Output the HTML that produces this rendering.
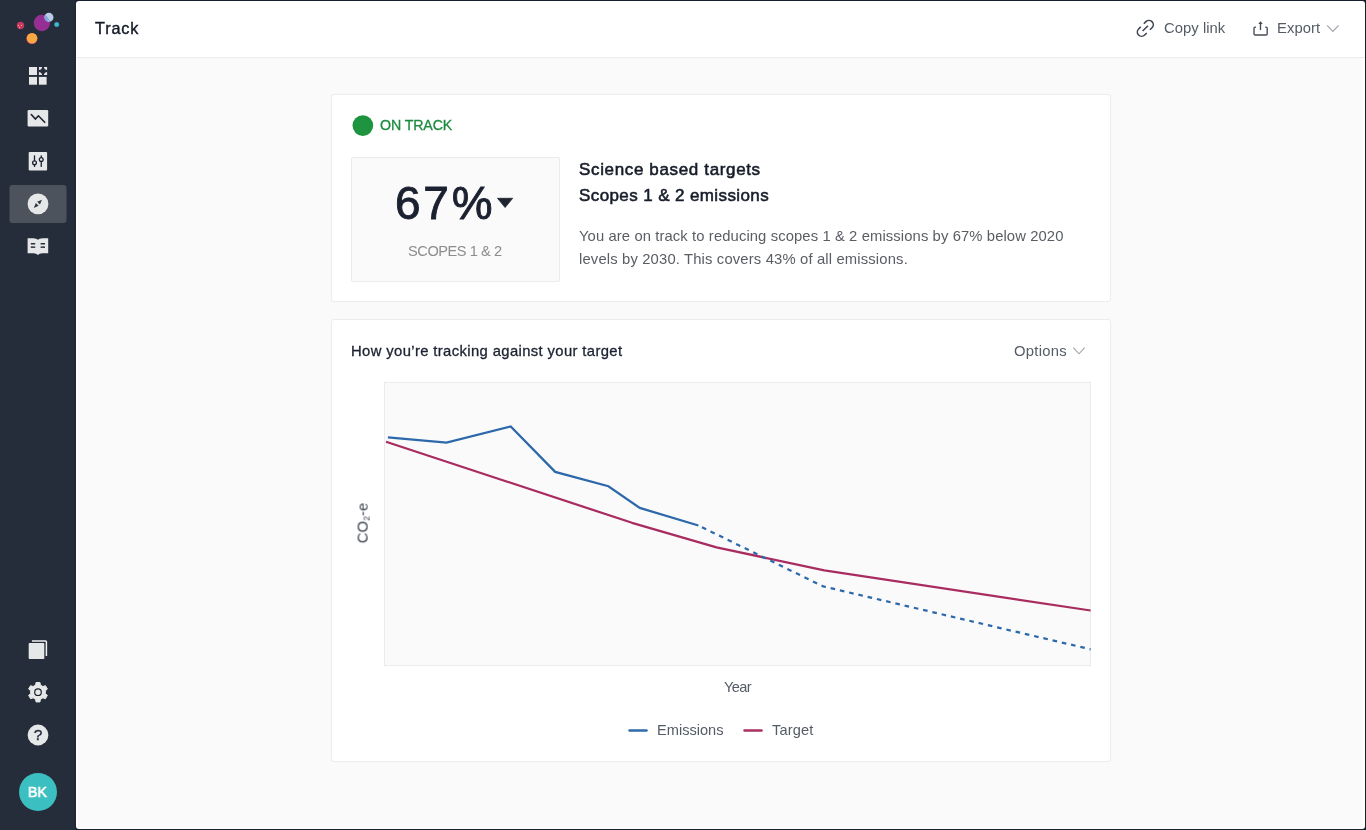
<!DOCTYPE html>
<html><head><meta charset="utf-8"><title>Track</title>
<style>
html,body{margin:0;padding:0;}
body{width:1366px;height:830px;overflow:hidden;background:#262d3a;font-family:"Liberation Sans",sans-serif;position:relative;}
.abs{position:absolute;}
.t{position:absolute;line-height:1;white-space:nowrap;will-change:transform;}
#edge-t{left:76px;top:0;width:1290px;height:1px;background:#161d2c;}
#edge-r{left:1365px;top:0;width:1px;height:830px;background:#161d2c;}
#edge-b{left:76px;top:828.5px;width:1290px;height:1.5px;background:#161d2c;}
#shadow-l{left:73.5px;top:0;width:2.5px;height:830px;background:linear-gradient(to right,rgba(20,26,40,0),rgba(20,26,40,0.4));}
#panel{left:76px;top:1px;width:1289px;height:827.5px;background:#fff;border-radius:3px;}
#hdrline{left:76px;top:57px;width:1289px;height:1px;background:#ececec;}
#bodybg{left:77.5px;top:58px;width:1285.5px;height:769px;background:#fafafa;}
.card{position:absolute;background:#fff;border:1px solid #ececec;border-radius:3px;box-sizing:border-box;}
#card1{left:331px;top:94px;width:780px;height:208px;}
#card2{left:331px;top:319px;width:780px;height:443px;}
#kpi{left:351px;top:157px;width:209px;height:125px;background:#fafafa;border:1px solid #ebebeb;border-radius:2px;box-sizing:border-box;}
#plot{left:384px;top:382px;width:707px;height:284px;background:#fafafa;border:1px solid #ebebeb;box-sizing:border-box;}
#ylab{left:362.9px;top:523.3px;width:0;height:0;will-change:transform;}
#ylab span{position:absolute;white-space:nowrap;font-size:14.8px;line-height:1;color:#3d4350;transform:translate(-50%,-50%) rotate(-90deg);display:block;letter-spacing:0.1px;}
#ylab sub{font-size:8.5px;vertical-align:-1.5px;line-height:0;}
#bk{left:19px;top:773px;width:38px;height:38px;border-radius:50%;background:#3bbfc0;color:#fff;font-size:14.3px;line-height:38px;text-align:center;letter-spacing:0px;text-indent:-1.6px;-webkit-text-stroke:0.5px #fff;}
#q{left:28px;top:724.5px;width:20px;height:20px;color:#252b3a;font-size:15.5px;line-height:20px;text-align:center;-webkit-text-stroke:0.35px #252b3a;}
</style></head><body>
<div class="abs" id="shadow-l"></div>
<div class="abs" id="edge-t"></div><div class="abs" id="edge-r"></div><div class="abs" id="edge-b"></div>
<div class="abs" id="panel"></div>
<div class="abs" id="hdrline"></div>
<div class="abs" id="bodybg"></div>
<div class="card" id="card1"></div>
<div class="card" id="card2"></div>
<div class="abs" id="kpi"></div>
<div class="abs" id="plot"></div>
<div class="t" style="left:95.34px;top:20.49px;font-size:16.20px;color:#141a26;letter-spacing:0.885px;-webkit-text-stroke:0.4px #141a26;">Track</div>
<div class="t" style="left:1164.35px;top:20.67px;font-size:14.80px;color:#555b65;letter-spacing:0.045px;">Copy link</div>
<div class="t" style="left:1276.69px;top:20.67px;font-size:14.80px;color:#555b65;letter-spacing:0.090px;">Export</div>
<div class="t" style="left:379.73px;top:118.38px;font-size:14.20px;color:#1c8c3f;letter-spacing:-0.106px;-webkit-text-stroke:0.3px #1c8c3f;">ON TRACK</div>
<div class="t" style="left:394.57px;top:181.15px;font-size:45.90px;color:#1b2130;letter-spacing:2.800px;-webkit-text-stroke:0.9px #1b2130;">67%</div>
<div class="t" style="left:408.14px;top:243.94px;font-size:14.60px;color:#8c8c8c;letter-spacing:-0.446px;">SCOPES 1 &amp; 2</div>
<div class="t" style="left:578.93px;top:161.11px;font-size:17.00px;color:#161c28;letter-spacing:0.644px;-webkit-text-stroke:0.55px #161c28;">Science based targets</div>
<div class="t" style="left:578.93px;top:187.11px;font-size:17.00px;color:#161c28;letter-spacing:0.394px;-webkit-text-stroke:0.55px #161c28;">Scopes 1 &amp; 2 emissions</div>
<div class="t" style="left:579.27px;top:228.77px;font-size:14.80px;color:#5a5d63;letter-spacing:0.104px;">You are on track to reducing scopes 1 &amp; 2 emissions by 67% below 2020</div>
<div class="t" style="left:578.60px;top:251.87px;font-size:14.80px;color:#5a5d63;letter-spacing:0.155px;">levels by 2030. This covers 43% of all emissions.</div>
<div class="t" style="left:350.99px;top:343.87px;font-size:14.80px;color:#1b2130;letter-spacing:0.381px;-webkit-text-stroke:0.3px #1b2130;">How you’re tracking against your target</div>
<div class="t" style="left:1013.70px;top:343.87px;font-size:14.80px;color:#555b65;letter-spacing:0.272px;">Options</div>
<div class="t" style="left:724.28px;top:680.04px;font-size:14.60px;color:#555b65;letter-spacing:-0.625px;">Year</div>
<div class="t" style="left:657.00px;top:722.84px;font-size:14.60px;color:#555b65;letter-spacing:-0.000px;">Emissions</div>
<div class="t" style="left:772.47px;top:722.84px;font-size:14.60px;color:#555b65;letter-spacing:0.128px;">Target</div>
<div class="abs" id="ylab"><span>CO<sub>2</sub>-e</span></div>
<svg class="abs" style="left:0;top:0" width="1366" height="830" viewBox="0 0 1366 830">
<!-- logo -->
<circle cx="41.9" cy="23.0" r="8.15" fill="#952f93"/>
<circle cx="48.9" cy="17.4" r="4.55" fill="#b9cde6"/>
<path d="M45.2,16.6 L48.6,21.6 Q46.6,21.6 45.4,20 Q44.2,18.4 45.2,16.6Z" fill="#6f9fd4"/>
<line x1="45.6" y1="15.6" x2="49.8" y2="21.6" stroke="#5a8fcf" stroke-width="0.9"/>
<circle cx="56.7" cy="24.5" r="2.5" fill="#3d8bd8"/><circle cx="56.7" cy="24.5" r="2.0" fill="#35c0bf"/>
<circle cx="20.5" cy="25.5" r="3.7" fill="#c4356a"/><circle cx="18.5" cy="25.4" r="0.65" fill="#f8b43a"/><circle cx="21.45" cy="25.4" r="0.65" fill="#f8b43a"/><circle cx="19.5" cy="27.5" r="0.65" fill="#f8b43a"/>
<circle cx="31.85" cy="38.5" r="5.5" fill="#d63a6a"/><circle cx="32.05" cy="38.3" r="5.3" fill="#f8a842"/>
<!-- active bg -->
<rect x="9.5" y="185" width="57" height="38" rx="3" fill="#4d535d"/>
<!-- dashboard -->
<g fill="#e6e7e9">
<rect x="29" y="67" width="8" height="8"/><rect x="29" y="76.9" width="8" height="7.8"/><rect x="38.9" y="76.9" width="7.7" height="7.8"/>
<rect x="38.9" y="67" width="8.2" height="8"/>
</g>
<path d="M42.1,66.8 L43.9,66.8 Q44.1,69.9 47.3,70.1 L47.3,71.9 Q44.1,72.1 43.9,75.2 L42.1,75.2 Q41.9,72.1 38.7,71.9 L38.7,70.1 Q41.9,69.9 42.1,66.8Z" fill="#262d3a"/>
<!-- trend -->
<rect x="27.6" y="110" width="20.6" height="16.5" rx="1.2" fill="#e6e7e9"/>
<polyline points="31.3,114.5 35.4,119.1 38.4,115.8 44.7,122.3" fill="none" stroke="#1c2230" stroke-width="1.6" stroke-linecap="round" stroke-linejoin="miter"/>
<!-- sliders -->
<rect x="28.7" y="152" width="18.4" height="18.5" rx="1" fill="#e6e7e9"/>
<g stroke="#1c2230" stroke-width="1.3" fill="#e6e7e9" stroke-linecap="round">
<line x1="34.5" y1="155.8" x2="34.5" y2="166.4"/><line x1="41.25" y1="155.8" x2="41.25" y2="166.4"/>
<circle cx="34.5" cy="162.7" r="1.9"/><circle cx="41.25" cy="159.5" r="1.9"/>
</g>
<!-- compass -->
<circle cx="38" cy="203.9" r="10.4" fill="#e6e7e9"/>
<path d="M42.0,199.75 L39.95,204.57 L37.13,201.75Z M33.8,207.9 L38.67,205.85 L35.85,203.03Z" fill="#2f3541"/>
<!-- book -->
<path d="M27.6,238.3 H33.5 Q36.5,238.3 37.9,239.8 Q39.3,238.3 42.3,238.3 H48.2 V253.2 H42.3 Q39.3,253.2 37.9,254.9 Q36.5,253.2 33.5,253.2 H27.6Z" fill="#e6e7e9"/>
<g fill="#2a303d"><rect x="30.8" y="243" width="4.4" height="1.5"/><rect x="30.8" y="246.4" width="4.4" height="1.5"/><rect x="40.6" y="243" width="4.4" height="1.5"/><rect x="40.6" y="246.4" width="4.4" height="1.5"/></g>
<!-- copy -->
<rect x="28.7" y="643.1" width="15.6" height="16" rx="0.8" fill="#e6e7e9"/>
<path d="M31.9,641 H45.6 Q46.4,641 46.4,641.8 V655.9" fill="none" stroke="#f0f0f1" stroke-width="1.5"/>
<!-- gear -->
<path d="M35.56,685.11 L36.03,682.50 L39.97,682.50 L40.44,685.11 L42.92,686.54 L45.41,685.64 L47.39,689.06 L45.36,690.77 L45.36,693.63 L47.39,695.34 L45.41,698.76 L42.92,697.86 L40.44,699.29 L39.97,701.90 L36.03,701.90 L35.56,699.29 L33.08,697.86 L30.59,698.76 L28.61,695.34 L30.64,693.63 L30.64,690.77 L28.61,689.06 L30.59,685.64 L33.08,686.54Z" fill="#e6e7e9" stroke="#e6e7e9" stroke-width="1" stroke-linejoin="round"/>
<circle cx="38" cy="692.2" r="3.3" fill="none" stroke="#1c2230" stroke-width="1.2"/>
<!-- help -->
<circle cx="38" cy="735" r="10.4" fill="#e6e7e9"/>
<!-- header icons -->
<g transform="translate(1145.3,28.35) rotate(-45) scale(0.86) translate(-12,-12)" fill="none" stroke="#3d4350" stroke-width="1.8" stroke-linecap="butt" stroke-linejoin="round">
<path d="M14.6 7h3.4a5 5 0 0 1 5 5 5 5 0 0 1-5 5h-3.4m-5.2 0H6a5 5 0 0 1-5-5 5 5 0 0 1 5-5h3.4"/><line x1="7.6" y1="12" x2="16.4" y2="12"/>
</g>
<g fill="none" stroke="#434955" stroke-width="1.35">
<path d="M1256,27.1 H1255.2 Q1254,27.1 1254,28.3 V33.8 Q1254,35 1255.2,35 H1266 Q1267.2,35 1267.2,33.8 V28.3 Q1267.2,27.1 1266,27.1 H1265.2"/>
<line x1="1260.5" y1="22.4" x2="1260.5" y2="30"/>
</g>
<path d="M1260.5,21.2 L1262.7,24 H1258.3Z" fill="#434955"/>
<polyline points="1327.1,25.3 1332.9,31.5 1338.7,25.3" fill="none" stroke="#9fa2a8" stroke-width="1.1"/>
<polyline points="1073.3,347.6 1079,353.8 1084.7,347.6" fill="none" stroke="#9fa2a8" stroke-width="1.1"/>
<!-- on track dot -->
<circle cx="362.85" cy="125.6" r="10.35" fill="#1e9441"/>
<!-- kpi triangle -->
<path d="M497.5,198.3 H512.7 L505.1,207.5Z" fill="#1f2430" stroke="#1f2430" stroke-width="0.8" stroke-linejoin="round"/>
<!-- chart -->
<polyline points="386,441.7 632,522.8 716.5,547.3 824.3,570.4 1090.6,610.5" fill="none" stroke="#a82c5f" stroke-width="2.25" stroke-linejoin="round"/>
<polyline points="387.9,437.4 446.5,442.7 510.7,426.4 555.2,471.9 608.4,486.2 639.8,507.9 698.4,525.5" fill="none" stroke="#2d69aa" stroke-width="2.25" stroke-linejoin="miter"/>
<polyline points="698.4,525.5 823.2,586.4 1090.6,649.3" fill="none" stroke="#2d69aa" stroke-width="2.25" stroke-dasharray="4.6 4.9" stroke-dashoffset="-4"/>
<!-- legend -->
<line x1="629.5" y1="730.45" x2="646.5" y2="730.45" stroke="#2f6baa" stroke-width="2.5" stroke-linecap="round"/>
<line x1="744.5" y1="730.4" x2="761.5" y2="730.4" stroke="#aa3061" stroke-width="2.5" stroke-linecap="round"/>
</svg>
<div class="abs" id="q">?</div>
<div class="abs" id="bk">BK</div>
</body></html>
